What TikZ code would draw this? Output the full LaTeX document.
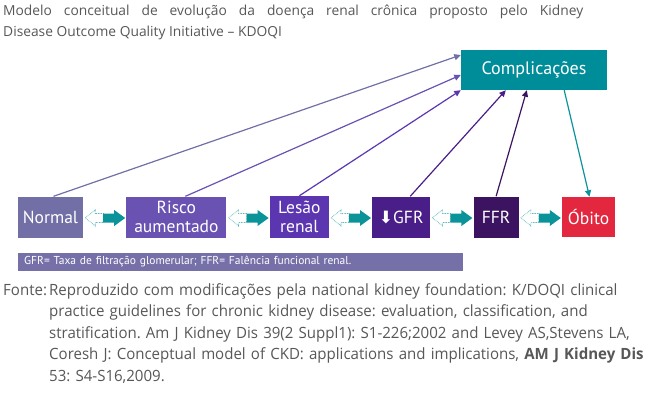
\documentclass[tikz,border=0pt]{standalone}
\usepackage{fontspec}
\setmainfont{Open Sans}
\newfontfamily\boxfont{PT Sans}
\newfontfamily\symfont{DejaVu Sans}
\newfontfamily\notefont[FakeStretch=0.97]{Open Sans}
\usetikzlibrary{positioning, calc, arrows.meta}

\definecolor{normalc}{HTML}{716FA6}
\definecolor{riscoc}{HTML}{6A52B3}
\definecolor{lesaoc}{HTML}{5C36B0}
\definecolor{gfrc}{HTML}{4A1E88}
\definecolor{ffrc}{HTML}{3C1361}
\definecolor{obitoc}{HTML}{E2273F}
\definecolor{compc}{HTML}{008D9A}
\definecolor{arrowc}{HTML}{0A9399}
\definecolor{legendc}{HTML}{7570A8}
\definecolor{textc}{HTML}{575757}

\begin{document}
\begin{tikzpicture}[
  x=1pt, y=-1pt,
  node distance=43pt,
  stage/.style={rectangle, inner sep=0pt, minimum height=41pt, text=white,
               font=\boxfont\fontsize{17.5}{19}\selectfont, align=center},
  link/.style={line width=1.2pt, -{Triangle[length=6.5pt, width=6pt]}},
  hollowhead/.style={draw=arrowc, densely dotted, line width=0.6pt},
  solidhead/.style={fill=arrowc},
  notetext/.style={inner sep=0pt, text=textc,
                   font=\notefont\fontsize{15.5}{21.5}\selectfont\frenchspacing}
]
\useasboundingbox (0,0) rectangle (650,400);

% titulo
\node[anchor=north west, inner sep=0pt, text width=580pt, align=justify, text=textc,
      font=\fontsize{13.8}{21.7}\selectfont\frenchspacing] (title) at (3,4.5)
  {Modelo conceitual de evolução da doença renal crônica proposto pelo Kidney\linebreak
   Disease Outcome Quality Initiative – KDOQI};

% estagios
\node[stage, fill=normalc, minimum width=65pt] (normal) at (50.5,217) {Normal};
\node[stage, fill=riscoc, minimum width=100pt, right=of normal] (risco) {Risco\\aumentado};
\node[stage, fill=lesaoc, minimum width=59pt, minimum height=42pt, right=of risco] (lesao) {Lesão\\renal};
\node[stage, fill=gfrc, minimum width=58pt, right=of lesao] (gfr)
  {{\symfont\fontsize{17}{17}\selectfont ⬇}GFR};
\node[stage, fill=ffrc, minimum width=45pt, right=of gfr] (ffr) {FFR};
\node[stage, fill=obitoc, minimum width=53pt, minimum height=40pt, right=of ffr] (obito) {Óbito};
\node[stage, fill=compc, minimum width=146pt, minimum height=40pt,
      font=\boxfont\fontsize{18}{19}\selectfont] (comp) at (534,70) {Complicações};

% legenda
\node[anchor=west, fill=legendc, text=white, inner xsep=6pt, inner ysep=0pt,
      text width=433pt, minimum height=18pt, align=left,
      font=\boxfont\fontsize{11.5}{12}\selectfont] (legend) at (18,262)
  {GFR= Taxa de filtração glomerular; FFR= Falência funcional renal.};

% setas duplas
\foreach \a/\b in {normal/risco, risco/lesao, lesao/gfr, gfr/ffr, ffr/obito} {
  \coordinate (L) at ($(\a.east)+(2,1)$);
  \coordinate (R) at ($(\b.west)+(-1,1)$);
  \coordinate (M) at ($(L)!0.45!(R)$);
  \draw[hollowhead] (L) -- ($(L)+(10,-8)$) -- ($(L)+(10,-4.5)$) -- ($(M)+(0,-4.5)$)
    -- ($(M)+(0,4.5)$) -- ($(L)+(10,4.5)$) -- ($(L)+(10,8)$) -- cycle;
  \fill[solidhead] ($(M)+(0,-4.5)$) -- ($(R)+(-11,-4.5)$) -- ($(R)+(-11,-8)$) -- (R)
    -- ($(R)+(-11,8)$) -- ($(R)+(-11,4.5)$) -- ($(M)+(0,4.5)$) -- cycle;
}

% ligacoes com complicacoes
\draw[link, draw=normalc] ($(normal.north)+(3,0)$) -- ($(comp.west)+(0,-15)$);
\draw[link, draw=riscoc] ($(risco.north)+(9,0)$) -- ($(comp.west)+(0,5)$);
\draw[link, draw=lesaoc] (lesao.north) -- (comp.south west);
\draw[link, draw=gfrc] ($(gfr.north)+(9,0)$) -- ($(comp.south west)+(45,0)$);
\draw[link, draw=ffrc] (ffr.north) -- ($(comp.south west)+(66,0)$);
\draw[link, draw=arrowc] ($(comp.south east)+(-43,0)$) -- ($(obito.north)+(1,0)$);

% fonte
\node[notetext, anchor=base west] (fontelabel) at (3,295) {Fonte:};
\node[notetext, anchor=base west, text width=600pt, align=left] (fonte) at (49,295)
  {Reproduzido com modificações pela national kidney foundation: K/DOQI clinical\\
   practice guidelines for chronic kidney disease: evaluation, classification, and\\
   stratification. Am J Kidney Dis 39(2 Suppl1): S1-226;2002 and Levey AS,Stevens LA,\\
   Coresh J: Conceptual model of CKD: applications and implications, \textbf{AM J Kidney Dis}\\
   53: S4-S16,2009.};
\end{tikzpicture}
\end{document}
